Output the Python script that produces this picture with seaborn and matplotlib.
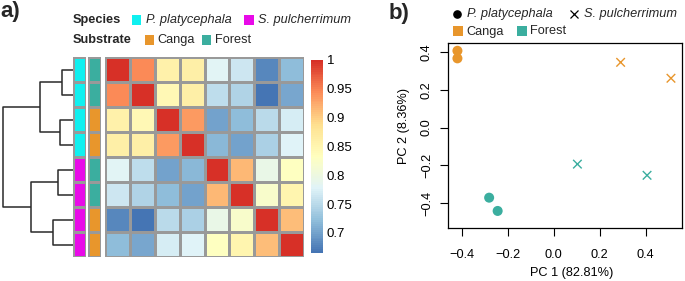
import numpy
import pandas
import seaborn
import matplotlib
matplotlib.use("Agg")
import matplotlib.pyplot as pyplot
from matplotlib.colors import LinearSegmentedColormap, ListedColormap
from matplotlib.patches import Rectangle
from matplotlib.lines import Line2D

# ---- data ----
samples = ["s1", "s2", "s3", "s4", "s5", "s6", "s7", "s8"]
row_species = ["P. platycephala"] * 4 + ["S. pulcherrimum"] * 4
row_substrate = ["Forest", "Forest", "Canga", "Canga", "Forest", "Forest", "Canga", "Canga"]

corr_values = [
    [1.000, 0.944, 0.858, 0.860, 0.780, 0.765, 0.680, 0.720],
    [0.944, 1.000, 0.845, 0.860, 0.755, 0.745, 0.665, 0.705],
    [0.858, 0.845, 1.000, 0.935, 0.700, 0.720, 0.750, 0.770],
    [0.860, 0.860, 0.935, 1.000, 0.717, 0.700, 0.740, 0.777],
    [0.780, 0.755, 0.700, 0.717, 1.000, 0.915, 0.795, 0.830],
    [0.765, 0.745, 0.720, 0.700, 0.915, 1.000, 0.820, 0.850],
    [0.680, 0.665, 0.750, 0.740, 0.795, 0.820, 1.000, 0.910],
    [0.720, 0.705, 0.770, 0.777, 0.830, 0.850, 0.910, 1.000],
]

# row dendrogram (leaves 0-7 top to bottom, new nodes numbered from 8)
merge_a = [0, 2, 4, 6, 8, 10, 12]
merge_b = [1, 3, 5, 7, 9, 11, 13]
merge_height = [0.103, 0.120, 0.147, 0.193, 0.327, 0.410, 0.693]

cbar_ticks = [0.7, 0.75, 0.8, 0.85, 0.9, 0.95, 1.0]
cbar_labels = ["0.7", "0.75", "0.8", "0.85", "0.9", "0.95", "1"]

pc1 = [-0.419, -0.419, 0.291, 0.510, -0.281, -0.244, 0.103, 0.406]
pc2 = [0.405, 0.365, 0.344, 0.260, -0.370, -0.440, -0.193, -0.252]
pca_species = ["P. platycephala", "P. platycephala", "S. pulcherrimum", "S. pulcherrimum",
               "P. platycephala", "P. platycephala", "S. pulcherrimum", "S. pulcherrimum"]
pca_substrate = ["Canga", "Canga", "Canga", "Canga", "Forest", "Forest", "Forest", "Forest"]
pc1_ticks = [-0.4, -0.2, 0.0, 0.2, 0.4]
pc2_ticks = [-0.4, -0.2, 0.0, 0.2, 0.4]

species_colors = {"P. platycephala": "#10F0F0", "S. pulcherrimum": "#E80AE8"}
substrate_colors = {"Canga": "#E8962C", "Forest": "#3BAE9F"}

# ---- style ----
seaborn.set_theme(style="ticks")
pyplot.rcParams["font.family"] = ["Liberation Sans", "DejaVu Sans"]
FS = 9.2

W, H = 685, 281
fig = pyplot.figure(figsize=(W / 100, H / 100), dpi=100)


def rect(x0, y0, x1, y1):
    return [x0 / W, 1 - y1 / H, (x1 - x0) / W, (y1 - y0) / H]


def fx(x):
    return x / W


def fy(y):
    return 1 - y / H


# ---- panel a: heatmap ----
corr = pandas.DataFrame(corr_values, index=samples, columns=samples)
rdylbu = ["#4575B4", "#91BFDB", "#E0F3F8", "#FFFFBF", "#FEE090", "#FC8D59", "#D73027"]
cmap = LinearSegmentedColormap.from_list("rdylbu_r", rdylbu, N=100)

ax_hm = fig.add_axes(rect(105, 57, 304, 257))
ax_cb = fig.add_axes(rect(311, 60, 323, 253))
seaborn.heatmap(corr, ax=ax_hm, cmap=cmap, vmin=corr.values.min(), vmax=1.0,
                linewidths=0.8, linecolor="#999999", cbar_ax=ax_cb,
                xticklabels=False, yticklabels=False)
ax_hm.set_xlabel("")
ax_hm.set_ylabel("")
cbar = ax_hm.collections[0].colorbar
cbar.outline.set_visible(False)
cbar.set_ticks(cbar_ticks)
cbar.set_ticklabels(cbar_labels)
ax_cb.tick_params(length=0, pad=2.5, labelsize=9.5, labelcolor="black")

# annotation columns
sp_levels = list(species_colors)
sub_levels = list(substrate_colors)
ax_sp = fig.add_axes(rect(72.5, 57, 85.5, 257))
seaborn.heatmap(pandas.DataFrame({"Species": [sp_levels.index(v) for v in row_species]}),
                ax=ax_sp, cmap=ListedColormap([species_colors[k] for k in sp_levels]),
                vmin=-0.5, vmax=1.5, cbar=False, linewidths=0.8, linecolor="#999999",
                xticklabels=False, yticklabels=False)
ax_sub = fig.add_axes(rect(87.5, 57, 101, 257))
seaborn.heatmap(pandas.DataFrame({"Substrate": [sub_levels.index(v) for v in row_substrate]}),
                ax=ax_sub, cmap=ListedColormap([substrate_colors[k] for k in sub_levels]),
                vmin=-0.5, vmax=1.5, cbar=False, linewidths=0.8, linecolor="#999999",
                xticklabels=False, yticklabels=False)
for a in (ax_sp, ax_sub):
    a.set_xlabel("")
    a.set_ylabel("")

# dendrogram
ax_d = fig.add_axes(rect(0, 57, 72.5, 257))
pos = {i: i + 0.5 for i in range(len(samples))}
hgt = {i: 0.0 for i in range(len(samples))}
for k, (a, b, h) in enumerate(zip(merge_a, merge_b, merge_height)):
    ax_d.plot([hgt[a], h, h, hgt[b]], [pos[a], pos[a], pos[b], pos[b]],
              color="#2a2a2a", linewidth=1.1, solid_capstyle="butt")
    pos[len(samples) + k] = (pos[a] + pos[b]) / 2
    hgt[len(samples) + k] = h
ax_d.set_ylim(len(samples), 0)
ax_d.set_xlim(max(merge_height) * 72.5 / 69.8, 0)
ax_d.axis("off")

# legend of annotations
fig.text(fx(72.7), fy(20), "Species", fontsize=FS, fontweight="bold", va="center")
fig.text(fx(72.7), fy(40), "Substrate", fontsize=FS, fontweight="bold", va="center")
for (x0, y0, col) in [(131.7, 15.5, species_colors["P. platycephala"]),
                      (244.0, 15.5, species_colors["S. pulcherrimum"]),
                      (144.5, 35.5, substrate_colors["Canga"]),
                      (201.5, 35.5, substrate_colors["Forest"])]:
    fig.patches.append(Rectangle((fx(x0), fy(y0 + 9.5)), 9.5 / W, 9.5 / H,
                                 transform=fig.transFigure, facecolor=col, edgecolor="none"))
fig.text(fx(145.5), fy(20), "P. platycephala", fontsize=FS, style="italic", va="center")
fig.text(fx(258.0), fy(20), "S. pulcherrimum", fontsize=FS, style="italic", va="center")
fig.text(fx(157.0), fy(40), "Canga", fontsize=FS, va="center")
fig.text(fx(214.5), fy(40), "Forest", fontsize=FS, va="center")

fig.text(fx(0), fy(12), "a)", fontsize=16, fontweight="bold", va="center")

# ---- panel b: PCA ----
pca = pandas.DataFrame({"PC1": pc1, "PC2": pc2, "species": pca_species, "substrate": pca_substrate})
ax_p = fig.add_axes(rect(448, 43, 682, 228))
seaborn.scatterplot(data=pca[pca.species == "P. platycephala"], x="PC1", y="PC2",
                    hue="substrate", palette=substrate_colors, marker="o", s=52,
                    linewidth=0, legend=False, ax=ax_p)
seaborn.scatterplot(data=pca[pca.species == "S. pulcherrimum"], x="PC1", y="PC2",
                    hue="substrate", palette=substrate_colors, marker="x", s=38,
                    linewidth=1.0, legend=False, ax=ax_p)
ax_p.set_xlim(-0.46, 0.558)
ax_p.set_ylim(-0.53, 0.446)
ax_p.set_xticks(pc1_ticks)
ax_p.set_yticks(pc2_ticks)
ax_p.set_xticklabels([f"{v:.1f}".replace("-", "\u2212") for v in pc1_ticks], fontsize=FS)
ax_p.set_yticklabels([f"{v:.1f}".replace("-", "\u2212") for v in pc2_ticks], fontsize=FS,
                     rotation=90, va="center")
ax_p.tick_params(direction="out", length=5.8, width=0.8, color="black", labelcolor="black")
ax_p.tick_params(axis="x", pad=9.5)
ax_p.tick_params(axis="y", pad=5)
for s in ax_p.spines.values():
    s.set_color("black")
    s.set_linewidth(0.9)
ax_p.set_xlabel("PC 1 (82.81%)", fontsize=FS, color="black")
ax_p.set_ylabel("PC 2 (8.36%)", fontsize=FS, color="black")
ax_p.xaxis.set_label_coords((572 - 448) / 234, (228 - 267) / 185)
ax_p.yaxis.set_label_coords((410 - 448) / 234, (228 - 126) / 185)

# PCA legend
fig.lines.append(Line2D([fx(457)], [fy(13.5)], marker="o", markersize=5.2,
                        color="black", linestyle="none", transform=fig.transFigure))
fig.lines.append(Line2D([fx(574)], [fy(13.5)], marker="x", markersize=5.2,
                        color="black", markeredgewidth=0.9, linestyle="none",
                        transform=fig.transFigure))
fig.text(fx(467), fy(13.5), "P. platycephala", fontsize=FS, style="italic", va="center")
fig.text(fx(584), fy(13.5), "S. pulcherrimum", fontsize=FS, style="italic", va="center")
for (x0, col) in [(453.5, substrate_colors["Canga"]), (517.0, substrate_colors["Forest"])]:
    fig.patches.append(Rectangle((fx(x0), fy(26.5 + 9.5)), 9.5 / W, 9.5 / H,
                                 transform=fig.transFigure, facecolor=col, edgecolor="none"))
fig.text(fx(466), fy(31.5), "Canga", fontsize=FS, va="center")
fig.text(fx(530), fy(31.5), "Forest", fontsize=FS, va="center")

fig.text(fx(389), fy(14), "b)", fontsize=16, fontweight="bold", va="center")

fig.savefig("out.png", dpi=100)
